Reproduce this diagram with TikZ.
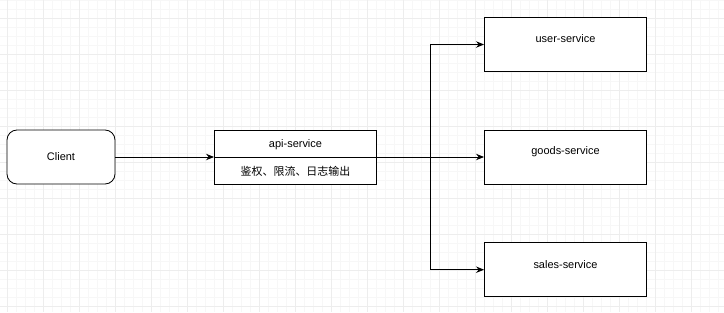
\documentclass[tikz,border=0pt]{standalone}
\usepackage{fontspec}
\setsansfont{Liberation Sans}
\newfontfamily\cjk{Noto Sans CJK SC}
\usetikzlibrary{arrows.meta}

\begin{document}
\begin{tikzpicture}[x=0.025cm,y=-0.025cm,font=\sffamily\fontsize{7.8}{9.4}\selectfont,>={Stealth[length=2mm,width=1.6mm]},box/.style={draw, line width=0.6pt, fill=white, minimum width=4.05cm, minimum height=1.35cm, inner sep=0pt},arrow/.style={->, line width=0.6pt}]
\useasboundingbox (0,0) rectangle (724,312);
\foreach \x in {7,16,...,724} \draw[gray!6] (\x,0) -- (\x,312);
\foreach \y in {0,9,...,312} \draw[gray!6] (0,\y) -- (724,\y);
\foreach \x in {7,43,...,724} \draw[gray!14] (\x,0) -- (\x,312);
\foreach \y in {18,54,...,312} \draw[gray!14] (0,\y) -- (724,\y);
\node[box, minimum width=2.7cm, rounded corners=2.5mm] (client) at (61,157) {Client};
\node[box] (api) at (295.5,157) {};\draw[line width=0.6pt] (api.west) -- (api.east);
\node (apiname) at (295.5,145) {api-service};
\node[font=\cjk\fontsize{7.8}{9.4}\selectfont] (apitask) at (295.5,171) {鉴权、限流、日志输出};
\node[box] (user) at (565.5,44.5) {};\node (usertext) at (565.5,39) {user-service};
\node[box] (goods) at (565.5,157) {};\node (goodstext) at (565.5,151.5) {goods-service};
\node[box] (sales) at (565.5,269.7) {};\node (salestext) at (565.5,264.3) {sales-service};
\coordinate (fork) at (430,157);
\draw[arrow] (client) -- (api);\draw[arrow] (api.east) -- (goods.west);
\draw[arrow] (fork) |- (user.west);\draw[arrow] (fork) |- (sales.west);
\end{tikzpicture}
\end{document}
